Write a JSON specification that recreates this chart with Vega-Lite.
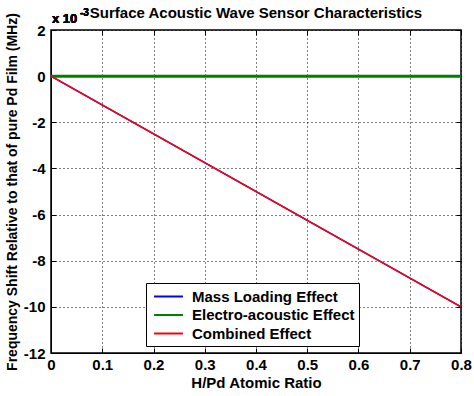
{
  "$schema": "https://vega.github.io/schema/vega-lite/v6.json",
  "width": 410,
  "height": 323,
  "autosize": {"type": "none"},
  "padding": {"left": 51, "top": 30, "right": 13, "bottom": 43},
  "background": "white",
  "config": {
    "font": "Liberation Sans",
    "view": {"stroke": "black", "strokeWidth": 1.5},
    "axis": {
      "labelFont": "Liberation Sans", "labelFontWeight": "bold", "labelFontSize": 15, "labelColor": "black",
      "titleFont": "Liberation Sans", "titleFontWeight": "bold", "titleFontSize": 15, "titleColor": "black",
      "domainColor": "black", "tickColor": "black", "tickWidth": 1,
      "gridColor": "black", "gridDash": [1, 3], "gridOpacity": 1, "gridWidth": 1
    }
  },
  "title": {
    "text": "Surface Acoustic Wave Sensor Characteristics",
    "font": "Liberation Sans", "fontWeight": "bold", "fontSize": 15, "color": "black",
    "anchor": "middle", "offset": 0, "dy": 13
  },
  "data": {
    "values": [
      {"series": "Mass Loading Effect", "ratio": 0, "shift": 0},
      {"series": "Mass Loading Effect", "ratio": 0.8, "shift": -0.01},
      {"series": "Electro-acoustic Effect", "ratio": 0, "shift": 0},
      {"series": "Electro-acoustic Effect", "ratio": 0.8, "shift": 0},
      {"series": "Combined Effect", "ratio": 0, "shift": 0},
      {"series": "Combined Effect", "ratio": 0.8, "shift": -0.01}
    ]
  },
  "resolve": {"axis": {"x": "independent", "y": "independent"}},
  "layer": [
    {
      "mark": {"type": "line", "clip": true},
      "encoding": {
        "x": {
          "field": "ratio", "type": "quantitative",
          "scale": {"domain": [0, 0.8], "nice": false, "zero": false},
          "axis": {"values": [0, 0.1, 0.2, 0.3, 0.4, 0.5, 0.6, 0.7, 0.8], "format": "~g", "title": "H/Pd Atomic Ratio", "grid": true, "tickSize": -5, "labelPadding": 9, "titlePadding": 3, "labelFlush": false}
        },
        "y": {
          "field": "shift", "type": "quantitative",
          "scale": {"domain": [-0.012, 0.002], "nice": false, "zero": false},
          "axis": {"values": [-0.012, -0.01, -0.008, -0.006, -0.004, -0.002, 0, 0.002], "labelExpr": "'' + round(datum.value*1000)", "title": "Frequency Shift Relative to that of pure Pd Film (MHz)", "titleFontSize": 14, "grid": true, "tickSize": -5, "labelPadding": 11, "titlePadding": 4}
        },
        "color": {
          "field": "series", "type": "nominal",
          "scale": {"domain": ["Mass Loading Effect", "Electro-acoustic Effect", "Combined Effect"], "range": ["#0000ff", "#008000", "#ff0000"]},
          "legend": {
            "title": null, "orient": "none", "legendX": 95, "legendY": 253,
            "symbolType": "M-1.7,0H1.7", "symbolStrokeWidth": 2, "symbolSize": 289, "symbolOffset": 9,
            "labelFont": "Liberation Sans", "labelFontWeight": "bold", "labelFontSize": 15, "labelColor": "black", "labelLimit": 400,
            "fillColor": "white", "strokeColor": "black", "padding": 4, "rowPadding": 0.5, "labelOffset": 14
          }
        },
        "strokeWidth": {
          "condition": {"test": "datum.series === 'Electro-acoustic Effect'", "value": 3},
          "value": 1.7
        }
      }
    },
    {
      "mark": {"type": "point", "opacity": 0},
      "encoding": {
        "x": {"field": "ratio", "type": "quantitative", "axis": {"orient": "top", "values": [0, 0.1, 0.2, 0.3, 0.4, 0.5, 0.6, 0.7, 0.8], "labels": false, "domain": false, "grid": false, "tickSize": -5, "title": null}},
        "y": {"field": "shift", "type": "quantitative", "axis": {"orient": "right", "values": [-0.012, -0.01, -0.008, -0.006, -0.004, -0.002, 0, 0.002], "labels": false, "domain": false, "grid": false, "tickSize": -5, "title": null}}
      }
    },
    {
      "mark": {"type": "text", "align": "left", "baseline": "bottom", "dx": 1, "dy": -4, "font": "Liberation Sans", "fontWeight": "bold", "fontSize": 13, "color": "black"},
      "encoding": {
        "x": {"datum": 0, "type": "quantitative", "axis": null},
        "y": {"datum": 0.002, "type": "quantitative", "axis": null},
        "text": {"value": "x 10"}
      }
    },
    {
      "mark": {"type": "text", "align": "left", "baseline": "bottom", "dx": 29, "dy": -12, "font": "Liberation Sans", "fontWeight": "bold", "fontSize": 10, "color": "black"},
      "encoding": {
        "x": {"datum": 0, "type": "quantitative", "axis": null},
        "y": {"datum": 0.002, "type": "quantitative", "axis": null},
        "text": {"value": "-3"}
      }
    }
  ]
}
